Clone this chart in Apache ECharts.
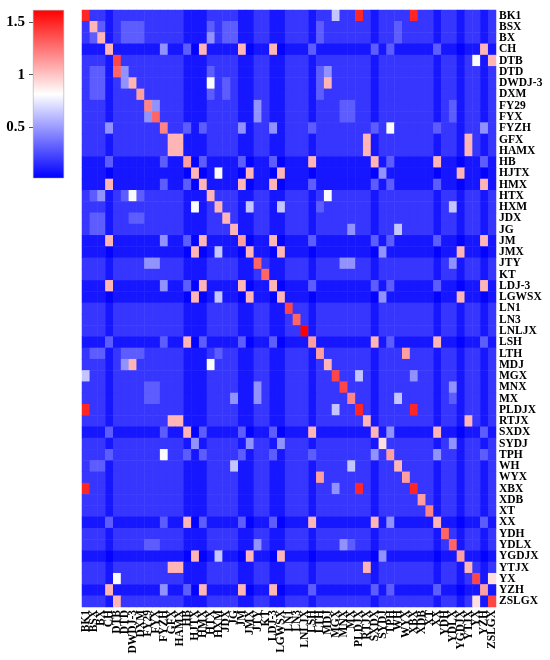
<!DOCTYPE html>
<html><head><meta charset="utf-8">
<script src="https://cdn.jsdelivr.net/npm/echarts@6/dist/echarts.min.js"></script>
<style>html,body{margin:0;padding:0;background:#fff}#c{width:550px;height:660px}</style>
</head><body><div id="c"></div>
<script>
// Category labels (rows top-to-bottom, columns left-to-right)
const labels = ['BK1','BSX','BX','CH','DTB','DTD','DWDJ-3','DXM','FY29','FYX','FYZH','GFX','HAMX','HB','HJTX','HMX','HTX','HXM','JDX','JG','JM','JMX','JTY','KT','LDJ-3','LGWSX','LN1','LN3','LNLJX','LSH','LTH','MDJ','MGX','MNX','MX','PLDJX','RTJX','SXDX','SYDJ','TPH','WH','WYX','XBX','XDB','XT','XX','YDH','YDLX','YGDJX','YTJX','YX','YZH','ZSLGX'];

// Matrix rows, one character per cell
const matrixRows = [
"f221222222 2221112222 1122112221 22522f2122 22f2212212 212",
"2a31233322 2221113233 1122112221 3222222122 3222212212 212",
"23a1233322 2221114233 1122112221 3222222122 3222212212 212",
"111a111111 41130a1111 a011a01113 1111111313 1111131101 1a1",
"2221e22222 2221112222 1122112221 2222222122 2222212212 61a",
"2331d42222 2221113222 1122112221 3422222122 2222212212 212",
"233124a222 2221116232 1122112221 3a22222122 2222212212 212",
"2331222b22 2221113232 1122112221 3222222122 2222212212 212",
"22212222c4 2221112222 1142112221 2223322122 2222212312 212",
"222122224d 2221112222 1142112221 2223322122 2222212312 212",
"2224222222 c223132222 4122412223 2222222326 2222232212 242",
"2221222222 2aa1112222 1122112221 222222a122 222221221a 212",
"2221222222 2aa1112222 1122112221 222222a122 222221221a 212",
"1113111111 311b031111 301130111a 1111111a13 11111a1101 131",
"1110111111 1110a01611 0a110a1110 1111111041 11111011a1 101",
"111a111111 31130a1111 a011a01113 1111111313 1111131101 1a1",
"2341236322 222111a222 1122112221 2622222122 2222212212 212",
"2221222222 2221612a22 1522152221 3222222122 2222212512 212",
"2331223322 22211122a2 1122112221 2222222122 2222212212 212",
"2331222222 222111222a 1122112221 2222422122 5222212212 212",
"111a111111 41130a1111 b011a01113 1111111313 1111131101 1a1",
"1110111111 1110a01511 0a110a1110 1111111041 11111011a1 101",
"2221222244 2221112222 11d2112221 2224422122 2222212412 212",
"2221222222 2221112222 112d112221 2222222122 2222212212 212",
"111a111111 41130a1111 a011a01113 1111111313 1111131101 1a1",
"1110111111 1110a01511 0a110a1110 1111111041 11111011a1 101",
"2221222222 2221112222 112211e221 2222222122 2222212212 212",
"2221222222 2221112222 1122112d21 2222222122 2222212212 212",
"2221222222 2221112222 11221122g1 2222222122 2222212212 212",
"1113111111 311a031111 301130111b 1111111a13 11111a1101 131",
"2331233322 2221112322 1122112221 b222222122 2b22212212 212",
"222124a222 2221116222 1122112221 2a22222122 2222212212 212",
"5221222222 2221112222 1122112221 22e2252122 2242212212 212",
"2221222233 2221112222 1142112221 222e222122 2222212412 212",
"2221222233 2221112224 1142112221 2222c22122 5222212312 212",
"f221222222 2221112222 1122112221 22522f2122 22f2212212 212",
"2221222222 2aa1112222 1122112221 222222a122 222221221a 212",
"1113111111 311a031111 301130111a 1111111a14 11111a1101 131",
"2221222222 2221412222 1422142221 2222222172 2222212412 212",
"2223222222 6223132222 3122312223 222222242b 2222242212 232",
"2331222222 2221112225 1122112221 2222522122 a222212212 212",
"2221222222 2221112222 1122112221 b222222122 2b22212212 212",
"f221222222 2221112222 1122112221 22422f2122 22f2212212 212",
"2221222222 2221112222 1122112221 2222222122 222b212212 212",
"2221222222 2221112222 1122112221 2222222122 2222c12212 212",
"1113111111 311a031111 301130111a 1111111a14 11111a1101 131",
"2221222222 2221112222 1122112221 2222222122 222221d212 212",
"2221222233 2221112222 1142112221 2224322122 2222212d12 212",
"1110111111 1110a01511 0a110a1110 1111111041 11111011b1 101",
"2221222222 2aa1112222 1122112221 222222a122 222221221a 212",
"2221622222 2221112222 1122112221 2222222122 2222212212 e17",
"111a111111 41130a1111 a011a01113 1111111313 1111131101 1b1",
"2221a22222 2221112222 1122112221 2222222122 2222212212 71e"
];

// Value of each shade level character
const levelValues = {'0':0.02,'1':0.08,'2':0.18,'3':0.3,'4':0.47,'5':0.63,'6':0.8,'7':0.92,
  'a':1.05,'b':1.12,'c':1.2,'d':1.3,'e':1.4,'f':1.5,'g':1.62};

const colorbarTicks = [0.5, 1, 1.5];
const valueMin = 0.01, valueMax = 1.62;

const heatData = [];
matrixRows.forEach((row, i) => {
  const s = row.replace(/\s+/g, '');
  for (let j = 0; j < s.length; j++) heatData.push([j, i, levelValues[s[j]]]);
});

const chart = echarts.init(document.getElementById('c'), null, {renderer: 'canvas'});
const font = {fontFamily: '"Liberation Serif","Times New Roman",serif', fontWeight: 'bold', color: '#000'};
chart.setOption({
  animation: false,
  grid: [
    {left: 82, right: 54, top: 10, bottom: 53},
    {left: 33, top: 10, width: 31, height: 168}
  ],
  xAxis: [
    {type: 'category', data: labels, gridIndex: 0,
     axisLine: {show: false}, axisTick: {show: false}, splitLine: {show: false},
     axisLabel: Object.assign({}, font, {fontSize: 11.5, rotate: 90, interval: 0, margin: 3})},
    {type: 'category', data: [''], gridIndex: 1, show: false}
  ],
  yAxis: [
    {type: 'category', data: labels, inverse: true, position: 'right', gridIndex: 0,
     axisLine: {show: false}, axisTick: {show: false}, splitLine: {show: false},
     axisLabel: Object.assign({}, font, {fontSize: 11.5, interval: 0, margin: 3})},
    {type: 'value', gridIndex: 1, min: valueMin, max: valueMax, position: 'left',
     splitLine: {show: false}, axisLine: {show: false},
     axisTick: {show: true, length: 4, customValues: colorbarTicks, lineStyle: {color: '#555'}},
     axisLabel: Object.assign({}, font, {fontSize: 15, customValues: colorbarTicks, margin: 8})}
  ],
  visualMap: {show: false, type: 'continuous', seriesIndex: 0, min: valueMin, max: valueMax,
    inRange: {color: ['#0000ff', '#ffffff', '#ff0000']}},
  series: [
    {type: 'heatmap', data: heatData, xAxisIndex: 0, yAxisIndex: 0, progressive: 0},
    {type: 'bar', xAxisIndex: 1, yAxisIndex: 1, data: [valueMax], barWidth: '100%', silent: true,
     itemStyle: {
       color: new echarts.graphic.LinearGradient(0, 0, 0, 1, [
         {offset: 0, color: '#ff0000'}, {offset: 0.5, color: '#ffffff'}, {offset: 1, color: '#0000ff'}]),
       borderColor: '#999', borderWidth: 0.5}}
  ]
});
</script></body></html>
